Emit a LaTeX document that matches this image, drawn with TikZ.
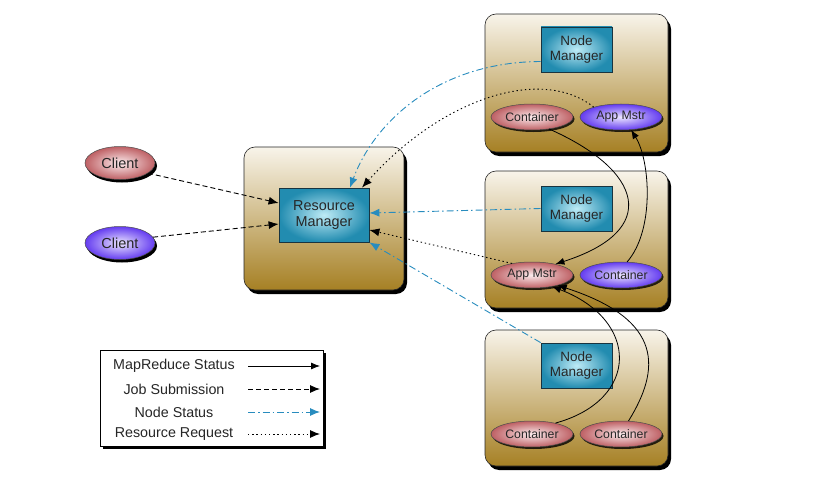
\documentclass[tikz,border=0pt]{standalone}
\usepackage{fontspec}
\setmainfont{Liberation Sans}
\usetikzlibrary{shapes.geometric,arrows.meta,shadows}
\definecolor{hosttop}{RGB}{248,244,234}
\definecolor{hostbot}{RGB}{166,128,36}
\definecolor{nmout}{RGB}{34,140,176}
\definecolor{nmin}{RGB}{190,235,246}
\definecolor{nmedge}{RGB}{24,52,64}
\definecolor{pinkout}{RGB}{190,96,100}
\definecolor{pinkin}{RGB}{252,236,238}
\definecolor{purpout}{RGB}{100,60,240}
\definecolor{purpin}{RGB}{236,230,255}
\definecolor{nsblue}{RGB}{40,140,190}
\begin{document}
\begin{tikzpicture}[x=1pt,y=-1pt,
  host/.style={draw=black!85, line width=0.6pt, rounded corners=11pt,
    top color=hosttop, bottom color=hostbot,
    drop shadow={shadow xshift=3pt,shadow yshift=-4pt,fill=black,opacity=1}},
  mgr/.style={draw=nmedge, line width=0.8pt, inner color=nmin, outer color=nmout,
    align=center, font=\fontsize{13.5}{15.5}\selectfont, text=black!85,
    minimum width=71pt, minimum height=45pt, inner sep=0pt},
  pinkell/.style={ellipse, draw=black!70, line width=0.5pt, inner color=pinkin, outer color=pinkout,
    minimum width=82pt, minimum height=26pt, inner sep=0pt, font=\fontsize{12.3}{14}\selectfont, text=black!85,
    drop shadow={shadow xshift=1.5pt,shadow yshift=-2pt,fill=black,opacity=0.8}},
  purpell/.style={pinkell, inner color=purpin, outer color=purpout},
  client/.style={minimum width=70pt, minimum height=33pt, font=\fontsize{14.5}{16}\selectfont,
    drop shadow={shadow xshift=2pt,shadow yshift=-3pt,fill=black,opacity=1}},
  mrstat/.style={draw=black, line width=0.8pt, -{Latex[length=9pt,width=7pt]}},
  jobsub/.style={draw=black, line width=0.9pt, dash pattern=on 5pt off 3pt, -{Latex[length=10pt,width=8pt]}},
  nodestat/.style={draw=nsblue, line width=0.9pt, dash pattern=on 7pt off 3pt on 1.5pt off 3pt, -{Latex[length=10pt,width=8pt]}},
  resreq/.style={draw=black, line width=0.9pt, dash pattern=on 1.4pt off 2.8pt, -{Latex[length=10pt,width=8pt]}},
  legtext/.style={font=\fontsize{14.3}{16}\selectfont, text=black!85, inner sep=0pt}
]
\useasboundingbox (0,0) rectangle (820,487);

% host boxes
\node[host, minimum width=160pt, minimum height=143pt] (rmhost) at (324,218.5) {};
\node[host, minimum width=183pt, minimum height=138pt] (h1) at (576.5,83) {};
\node[host, minimum width=183pt, minimum height=137pt] (h2) at (576.5,239.5) {};
\node[host, minimum width=183pt, minimum height=136pt] (h3) at (576.5,398) {};

% managers
\node[mgr, minimum width=90pt, minimum height=54pt, font=\fontsize{14.4}{16.5}\selectfont] (rmi) at (324,215) {Resource\\Manager};
\node[mgr] (nm1) at (576.5,49.5) {Node\\Manager};
\node[mgr] (nm2) at (576.5,208.5) {Node\\Manager};
\node[mgr] (nm3) at (576.5,365.5) {Node\\Manager};

% clients
\node[pinkell, client] (c1) at (120,163) {Client};
\node[purpell, client] (c2) at (120,243) {Client};

% containers / app masters
\node[pinkell] (ct1) at (532,117) {Container};
\node[purpell] (am1) at (621,117) {App Mstr};
\node[pinkell] (am2) at (532,275) {App Mstr};
\node[purpell] (ct2) at (621,275) {Container};
\node[pinkell] (ct3a) at (532,434) {Container};
\node[pinkell] (ct3b) at (621,434) {Container};

% job submission
\draw[jobsub] (c1.-20) -- ([yshift=12pt]rmi.west);
\draw[jobsub] (c2.10) -- ([yshift=-9pt]rmi.west);

% node status
\draw[nodestat] ([yshift=-12pt]nm1.west) .. controls (440,62) and (375,120) .. ([xshift=26pt]rmi.north);
\draw[nodestat] (nm2.west) -- ([yshift=2pt]rmi.east);
\draw[nodestat] (nm3.north west) -- (rmi.south east);

% resource request
\draw[resreq] (am1.160) .. controls (540,65) and (440,100) .. ([xshift=38pt]rmi.north);
\draw[resreq] (am2.150) -- ([yshift=-15pt]rmi.east);

% mapreduce status
\draw[mrstat] (ct1.-35) .. controls (642,170) and (662,230) .. (am2.25);
\draw[mrstat] (ct2.65) .. controls (655,230) and (650,160) .. (am1.-52);
\draw[mrstat] (ct3a.25) .. controls (640,400) and (640,320) .. (am2.-30);
\draw[mrstat] (ct3b.60) .. controls (660,370) and (665,320) .. (am2.-22);

% legend
\node[draw=black, line width=0.7pt, fill=white, minimum width=223pt, minimum height=96pt,
  drop shadow={shadow xshift=3pt,shadow yshift=-3pt,fill=black,opacity=1}] (leg) at (211.5,398) {};
\node[legtext] (l1) at (174,366) {MapReduce Status};
\node[legtext] (l2) at (174,389) {Job Submission};
\node[legtext] (l3) at (174,412) {Node Status};
\node[legtext] (l4) at (174,434) {Resource Request};
\coordinate (a1s) at (248,366); \coordinate (a1e) at (320,366);
\coordinate (a2s) at (248,389); \coordinate (a2e) at (320,389);
\coordinate (a3s) at (248,412); \coordinate (a3e) at (320,412);
\coordinate (a4s) at (248,434); \coordinate (a4e) at (320,434);
\draw[mrstat] (a1s) -- (a1e);
\draw[jobsub] (a2s) -- (a2e);
\draw[nodestat] (a3s) -- (a3e);
\draw[resreq] (a4s) -- (a4e);
\end{tikzpicture}
\end{document}
